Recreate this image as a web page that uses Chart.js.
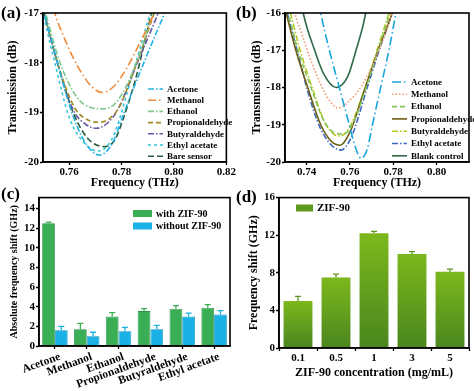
<!DOCTYPE html>
<html>
<head>
<meta charset="utf-8">
<script src="https://cdn.jsdelivr.net/npm/chart.js@4.4.1/dist/chart.umd.min.js"></script>
<style>
  html, body { margin: 0; padding: 0; background: #fff; }
  #wrap { position: relative; width: 474px; height: 391px; overflow: hidden; font-family: "Liberation Serif", "Times New Roman", serif; }
  .panel { position: absolute; }
  .tag { position: absolute; font-weight: bold; font-size: 17px; line-height: 17px; color: #000; }
</style>
</head>
<body>
<div id="wrap">
  <canvas id="chartA" class="panel" width="237" height="192" style="left:0;top:0"></canvas>
  <canvas id="chartB" class="panel" width="237" height="192" style="left:237px;top:0"></canvas>
  <canvas id="chartC" class="panel" width="237" height="201" style="left:0;top:190px"></canvas>
  <canvas id="chartD" class="panel" width="237" height="201" style="left:237px;top:190px"></canvas>
  <div class="tag" style="left:1px;top:4px">(a)</div>
  <div class="tag" style="left:236px;top:4px">(b)</div>
  <div class="tag" style="left:1px;top:185px">(c)</div>
  <div class="tag" style="left:236px;top:188px">(d)</div>
</div>
<script>
// Paneeli (a): ZIF-90-anturi, [taajuus THz, läpäisy dB]
const aAcetone = [[0.7488,-16.6],[0.7505,-17.0],[0.7555,-18.0],[0.761,-19.0],[0.766,-19.6],[0.7715,-19.86],[0.7765,-19.62],[0.781,-19.0],[0.7885,-18.0],[0.7965,-17.0],[0.799,-16.7]];
const aMethanol = [[0.7525,-16.6],[0.7545,-17.0],[0.7585,-17.55],[0.763,-18.05],[0.768,-18.45],[0.7725,-18.6],[0.777,-18.48],[0.7815,-18.15],[0.787,-17.6],[0.7925,-17.0],[0.795,-16.7]];
const aEthanol = [[0.749,-16.6],[0.751,-17.0],[0.7565,-18.0],[0.763,-18.7],[0.768,-18.9],[0.7726,-18.93],[0.777,-18.85],[0.7805,-18.6],[0.786,-17.95],[0.792,-17.0],[0.794,-16.7]];
const aPropionaldehyde = [[0.7488,-16.6],[0.7505,-17.0],[0.7555,-18.0],[0.762,-18.9],[0.767,-19.15],[0.7715,-19.2],[0.7755,-19.12],[0.779,-18.9],[0.7855,-18.05],[0.7925,-17.0],[0.795,-16.65]];
const aButyraldehyde = [[0.7488,-16.6],[0.7505,-17.0],[0.7555,-18.0],[0.7615,-18.95],[0.7665,-19.25],[0.7705,-19.32],[0.7745,-19.22],[0.7785,-18.95],[0.786,-18.0],[0.794,-17.0],[0.7965,-16.65]];
const aEthylAcetate = [[0.7483,-16.6],[0.75,-17.0],[0.7545,-18.0],[0.76,-19.1],[0.7655,-19.6],[0.771,-19.78],[0.7745,-19.68],[0.7775,-19.4],[0.7835,-18.35],[0.791,-17.0],[0.7935,-16.6]];
const aBareSensor = [[0.7488,-16.6],[0.7505,-17.0],[0.7555,-18.0],[0.7615,-19.0],[0.767,-19.52],[0.7735,-19.69],[0.7775,-19.55],[0.7805,-19.15],[0.7855,-18.3],[0.7915,-17.0],[0.794,-16.6]];

// Paneeli (b): anturi ilman ZIF-90:tä
const bAcetone = [[0.7455,-15.7],[0.7465,-16.0],[0.7505,-17.0],[0.7551,-18.0],[0.7597,-19.0],[0.7625,-19.6],[0.7651,-19.9],[0.768,-19.65],[0.7704,-19.0],[0.7742,-18.0],[0.778,-17.0],[0.7812,-16.0],[0.782,-15.7]];
const bMethanol = [[0.733,-15.6],[0.7345,-16.0],[0.738,-16.6],[0.7415,-17.2],[0.746,-17.85],[0.7505,-18.35],[0.7545,-18.55],[0.759,-18.4],[0.766,-17.9],[0.7734,-17.0],[0.7795,-16.0],[0.781,-15.7]];
const bEthanol = [[0.730,-15.7],[0.7315,-16.0],[0.736,-17.0],[0.742,-18.0],[0.748,-18.9],[0.7525,-19.2],[0.757,-19.25],[0.7615,-18.95],[0.7675,-18.0],[0.773,-17.0],[0.7785,-16.0],[0.7795,-15.8]];
const bPropionaldehyde = [[0.729,-15.7],[0.7305,-16.0],[0.735,-17.0],[0.7405,-18.0],[0.7465,-19.0],[0.7515,-19.45],[0.7555,-19.55],[0.76,-19.2],[0.7665,-18.1],[0.773,-17.0],[0.7795,-16.0],[0.781,-15.7]];
const bButyraldehyde = [[0.731,-15.7],[0.7325,-16.0],[0.737,-17.0],[0.7425,-18.0],[0.7485,-18.95],[0.7525,-19.25],[0.7555,-19.3],[0.76,-19.05],[0.767,-18.0],[0.7725,-17.0],[0.778,-16.0],[0.779,-15.8]];
const bEthylAcetate = [[0.7295,-15.7],[0.731,-16.0],[0.736,-17.1],[0.741,-18.2],[0.746,-19.05],[0.7515,-19.55],[0.7559,-19.68],[0.7605,-19.35],[0.768,-18.0],[0.7735,-17.0],[0.7795,-16.0],[0.781,-15.7]];
const bBlankControl = [[0.7375,-15.7],[0.7384,-16.0],[0.7437,-17.0],[0.748,-17.65],[0.7536,-18.0],[0.759,-17.7],[0.7628,-17.0],[0.7673,-16.0],[0.768,-15.7]];

// Paneeli (c): taajuussiirtymät (GHz)
const cCategories = ['Acetone', 'Methanol', 'Ethanol', 'Propionaldehyde', 'Butyraldehyde', 'Ethyl acetate'];
const cWithZif = [12.5, 1.7, 3.0, 3.55, 3.8, 3.9];
const cWithZifErr = [0.1, 0.6, 0.4, 0.25, 0.3, 0.3];
const cWithoutZif = [1.6, 1.0, 1.5, 1.7, 3.0, 3.2];
const cWithoutZifErr = [0.4, 0.4, 0.4, 0.4, 0.35, 0.4];

// Paneeli (d): ZIF-90-pitoisuus
const dCategories = ['0.1', '0.5', '1', '3', '5'];
const dShift = [5.0, 7.5, 12.2, 10.0, 8.1];
const dShiftErr = [0.5, 0.35, 0.2, 0.25, 0.3];

const SERIF = '"Liberation Serif", "Times New Roman", serif';
const DASH_DOT = [6, 2, 1.5, 2];

const toPoints = arr => arr.map(p => ({ x: p[0], y: p[1] }));

// Kehys kaavioalueen ympärille
const framePlugin = {
  id: 'frame',
  afterDraw(chart) {
    const { ctx, chartArea: a } = chart;
    ctx.save();
    ctx.strokeStyle = '#000';
    ctx.lineWidth = 1.6;
    ctx.strokeRect(a.left, a.top, a.right - a.left, a.bottom - a.top);
    ctx.restore();
  }
};

// Viivaselite kaavion sisällä
const lineLegend = {
  id: 'lineLegend',
  afterDraw(chart, args, opts) {
    const ctx = chart.ctx;
    ctx.save();
    ctx.font = `bold ${opts.size}px ${SERIF}`;
    ctx.textBaseline = 'middle';
    chart.data.datasets.forEach((ds, i) => {
      const y = opts.y + i * opts.row;
      ctx.strokeStyle = ds.borderColor;
      ctx.lineWidth = ds.borderWidth;
      ctx.setLineDash(ds.borderDash || []);
      ctx.beginPath();
      ctx.moveTo(opts.x, y);
      ctx.lineTo(opts.x + opts.len, y);
      ctx.stroke();
      ctx.setLineDash([]);
      ctx.fillStyle = '#000';
      ctx.fillText(ds.label, opts.x + opts.len + opts.gap, y + 0.5);
    });
    ctx.restore();
  }
};

// Pylvässelite
const boxLegend = {
  id: 'boxLegend',
  afterDraw(chart, args, opts) {
    const ctx = chart.ctx;
    ctx.save();
    ctx.font = `bold ${opts.size}px ${SERIF}`;
    ctx.textBaseline = 'middle';
    chart.data.datasets.forEach((ds, i) => {
      const y = opts.y + i * opts.row;
      ctx.fillStyle = opts.fills ? opts.fills[i] : ds.legendColor;
      ctx.fillRect(opts.x, y - opts.h / 2, opts.w, opts.h);
      ctx.fillStyle = '#000';
      ctx.fillText(ds.label, opts.x + opts.w + opts.gap, y + 0.5);
    });
    ctx.restore();
  }
};

// Virhepalkit (vain yläpuoli)
const errorBars = {
  id: 'errorBars',
  afterDatasetsDraw(chart) {
    const ctx = chart.ctx;
    const yScale = chart.scales.y;
    chart.data.datasets.forEach((ds, i) => {
      if (!ds.errors) return;
      const meta = chart.getDatasetMeta(i);
      meta.data.forEach((bar, j) => {
        const top = yScale.getPixelForValue(ds.data[j] + ds.errors[j]);
        ctx.save();
        ctx.strokeStyle = ds.errorColor;
        ctx.lineWidth = 1.3;
        ctx.beginPath();
        ctx.moveTo(bar.x, bar.y);
        ctx.lineTo(bar.x, top);
        ctx.moveTo(bar.x - 3, top);
        ctx.lineTo(bar.x + 3, top);
        ctx.stroke();
        ctx.restore();
      });
    });
  }
};

function axisStyle(titleText, titleSize, fixSize, isX, titlePad) {
  return {
    grid: { display: true, drawOnChartArea: false, drawTicks: true, tickLength: 3, color: '#000', tickWidth: 1.3 },
    border: { display: true, color: '#000', width: 1.6 },
    ticks: { color: '#000', font: { family: SERIF, size: 11, weight: 'bold' }, padding: 1 },
    title: { display: true, text: titleText, color: '#000', font: { family: SERIF, size: titleSize, weight: 'bold' },
      padding: isX ? { top: 0, bottom: titlePad || 0 } : { top: titlePad || 0, bottom: 0 } },
    afterFit: s => { if (isX) s.height = fixSize; else s.width = fixSize; }
  };
}

function lineDataset(label, arr, color, dash, width) {
  return {
    label, data: toPoints(arr), borderColor: color, borderDash: dash, borderWidth: width || 1.6,
    pointRadius: 0, fill: false, cubicInterpolationMode: 'monotone', clip: 0
  };
}

function spectrumChart(id, datasets, xMin, xMax, yMin, yMax, pad, yWidth, yTitlePad, legend) {
  const xAxis = axisStyle('Frequency (THz)', 12, 30, true, 2);
  xAxis.type = 'linear';
  xAxis.min = xMin; xAxis.max = xMax;
  xAxis.ticks.stepSize = 0.02;
  xAxis.ticks.includeBounds = false;
  xAxis.ticks.callback = v => v.toFixed(2);
  const yAxis = axisStyle('Transmission (dB)', 12, yWidth, false, yTitlePad);
  yAxis.min = yMin; yAxis.max = yMax;
  yAxis.ticks.stepSize = 1;
  return new Chart(document.getElementById(id), {
    type: 'line',
    data: { datasets },
    options: {
      responsive: false, animation: false,
      layout: { padding: pad },
      plugins: { legend: { display: false }, tooltip: { enabled: false }, lineLegend: legend },
      scales: { x: xAxis, y: yAxis }
    },
    plugins: [framePlugin, lineLegend]
  });
}

spectrumChart('chartA', [
  lineDataset('Acetone', aAcetone, '#22b2e2', DASH_DOT),
  lineDataset('Methanol', aMethanol, '#f08a3a', [8, 3, 1.5, 3]),
  lineDataset('Ethanol', aEthanol, '#7cc88c', DASH_DOT),
  lineDataset('Propionaldehyde', aPropionaldehyde, '#a48a26', [5, 3]),
  lineDataset('Butyraldehyde', aButyraldehyde, '#6456a8', DASH_DOT),
  lineDataset('Ethyl acetate', aEthylAcetate, '#38c6da', [3, 3]),
  lineDataset('Bare sensor', aBareSensor, '#2a5c3e', [6, 3])
], 0.75, 0.82, -20, -17, { top: 13, right: 7, left: 0, bottom: 0 }, 43, 6,
  { x: 148, y: 89, row: 11.2, len: 15, gap: 4, size: 9 });

spectrumChart('chartB', [
  lineDataset('Acetone', bAcetone, '#1aa6de', [9, 3, 1.5, 3]),
  lineDataset('Methanol', bMethanol, '#f29a72', [1.5, 2]),
  lineDataset('Ethanol', bEthanol, '#86c45a', [5, 3]),
  lineDataset('Propionaldehyde', bPropionaldehyde, '#6e5c12', []),
  lineDataset('Butyraldehyde', bButyraldehyde, '#b4c822', DASH_DOT),
  lineDataset('Ethyl acetate', bEthylAcetate, '#3c6cc0', DASH_DOT),
  lineDataset('Blank control', bBlankControl, '#2e6a4a', [])
], 0.73, 0.815, -20, -16, { top: 13, right: 5, left: 0, bottom: 0 }, 48, 13,
  { x: 155, y: 82, row: 12.3, len: 15, gap: 4, size: 9 });

// (c) ryhmitelty pylväskaavio
const cX = axisStyle('', 11, 45, true);
cX.title.display = false;
cX.ticks.maxRotation = 20;
cX.ticks.minRotation = 20;
cX.ticks.autoSkip = false;
cX.ticks.font.size = 11.5;
cX.ticks.labelOffset = 5;
cX.grid.offset = false;
const cY = axisStyle('Absolute frequency shift (GHz)', 10, 39, false, 8);
cY.min = 0; cY.max = 15.1;
cY.ticks.stepSize = 2;
cY.ticks.includeBounds = false;

new Chart(document.getElementById('chartC'), {
  type: 'bar',
  data: {
    labels: cCategories,
    datasets: [
      { label: 'with ZIF-90', data: cWithZif, errors: cWithZifErr, errorColor: '#3aae55', backgroundColor: '#3aae55', borderColor: '#2f8f46', borderWidth: 0.8, legendColor: '#3aae55', categoryPercentage: 0.8, barPercentage: 1.0 },
      { label: 'without ZIF-90', data: cWithoutZif, errors: cWithoutZifErr, errorColor: '#1ab2e6', backgroundColor: '#1ab2e6', borderColor: '#1490c0', borderWidth: 0.8, legendColor: '#1ab2e6', categoryPercentage: 0.8, barPercentage: 1.0 }
    ]
  },
  options: {
    responsive: false, animation: false,
    layout: { padding: { top: 5, right: 7, left: 0, bottom: 0 } },
    plugins: { legend: { display: false }, tooltip: { enabled: false }, boxLegend: { x: 133, y: 23.5, row: 12.5, w: 19, h: 7, gap: 4, size: 10 } },
    scales: { x: cX, y: cY }
  },
  plugins: [framePlugin, errorBars, boxLegend]
});

// (d) pitoisuuskaavio liukuvärillä
function barGradient(ctx) {
  const chart = ctx.chart;
  const y = chart.scales.y;
  if (!chart.chartArea || !y || ctx.raw === undefined) return '#64a01e';
  const top = y.getPixelForValue(ctx.raw);
  const bottom = y.getPixelForValue(0);
  const g = chart.ctx.createLinearGradient(0, top, 0, bottom);
  g.addColorStop(0, '#7cb81c');
  g.addColorStop(1, '#4a861e');
  return g;
}

const dX = axisStyle('ZIF-90 concentration (mg/mL)', 12, 43, true, 11);
const dY = axisStyle('Frequency shift (GHz)', 12, 42, false, 10);
dY.min = 0; dY.max = 16;
dY.ticks.stepSize = 4;

new Chart(document.getElementById('chartD'), {
  type: 'bar',
  data: {
    labels: dCategories,
    datasets: [
      { label: 'ZIF-90', data: dShift, errors: dShiftErr, errorColor: '#5c9420', backgroundColor: barGradient, borderWidth: 0, categoryPercentage: 0.76, barPercentage: 1.0 }
    ]
  },
  options: {
    responsive: false, animation: false,
    layout: { padding: { top: 7, right: 5, left: 0, bottom: 0 } },
    plugins: { legend: { display: false }, tooltip: { enabled: false }, boxLegend: { x: 59, y: 18, row: 12, w: 17, h: 7, gap: 4, size: 11, fills: ['#5e9a1e'] } },
    scales: { x: dX, y: dY }
  },
  plugins: [framePlugin, errorBars, boxLegend]
});
</script>
</body>
</html>
